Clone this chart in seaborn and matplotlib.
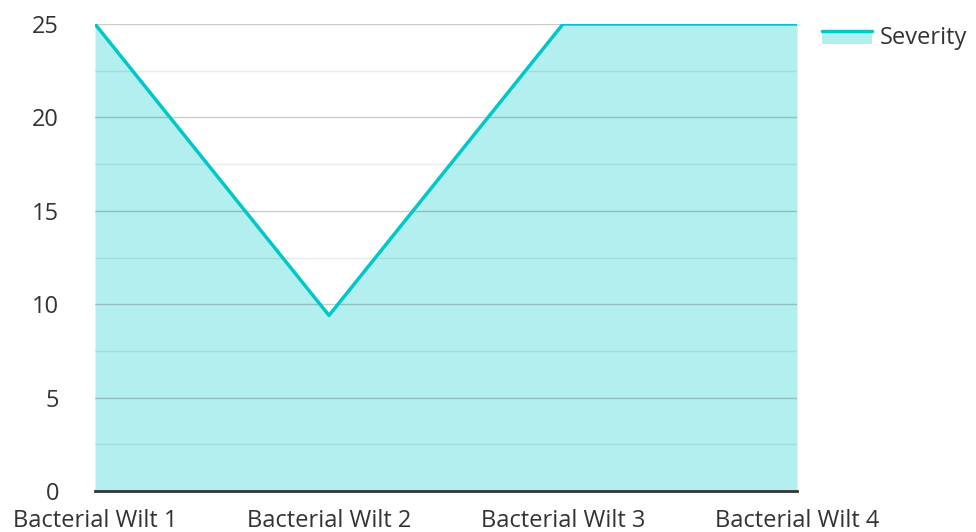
import matplotlib
matplotlib.use("Agg")
import matplotlib.pyplot as plt
import numpy as np
import pandas as pd
import seaborn as sns
from matplotlib.legend_handler import HandlerBase
from matplotlib.patches import Rectangle
from matplotlib.lines import Line2D

categories = ["Bacterial Wilt 1", "Bacterial Wilt 2", "Bacterial Wilt 3", "Bacterial Wilt 4"]
severity = [25, 9.4, 25, 25]

LINE = "#00c8c8"
FILL = "#b2efee"
FS = 17

sns.set_theme(style="white")
plt.rcParams["font.family"] = ["Open Sans", "DejaVu Sans"]

df = pd.DataFrame({"pos": np.arange(len(categories)), "Severity": severity})

fig = plt.figure(figsize=(9.76, 5.32), dpi=100)
ax = fig.add_axes([95 / 976, 1 - 491 / 532, (797 - 95) / 976, (491 - 24) / 532])

ax.fill_between(df["pos"], df["Severity"], 0, color=FILL, linewidth=0, zorder=1)
sns.lineplot(data=df, x="pos", y="Severity", color=LINE, linewidth=2.5, ax=ax,
             legend=False, zorder=3)

ax.set_xlim(0, len(categories) - 1)
ax.set_ylim(0, 25)
ax.set_yticks(np.arange(0, 26, 5))
ax.set_yticks(np.arange(2.5, 25, 5), minor=True)
ax.grid(True, which="major", axis="y", color="#000000", alpha=0.2, linewidth=1, zorder=2)
ax.grid(True, which="minor", axis="y", color="#000000", alpha=0.08, linewidth=1, zorder=2)
ax.set_axisbelow(False)
ax.set_xticks(df["pos"])
ax.set_xticklabels(categories)
ax.set_xlabel("")
ax.set_ylabel("")
for side in ["top", "right", "left"]:
    ax.spines[side].set_visible(False)
ax.spines["bottom"].set_color("#333333")
ax.spines["bottom"].set_linewidth(2)
ax.spines["bottom"].set_zorder(4)
ax.tick_params(axis="both", which="both", length=0, labelsize=FS, colors="#333333")
ax.tick_params(axis="y", pad=26)
ax.tick_params(axis="x", pad=13)


class AreaHandler(HandlerBase):
    def create_artists(self, legend, orig_handle, xdescent, ydescent, width, height,
                       fontsize, trans):
        rect = Rectangle((-xdescent, -ydescent), width, height * 0.8,
                         facecolor=FILL, edgecolor="none", transform=trans)
        line = Line2D([-xdescent, -xdescent + width], [-ydescent + height * 0.8] * 2,
                      color=LINE, linewidth=2.5, transform=trans)
        return [rect, line]


handle = Rectangle((0, 0), 1, 1)
fig.legend([handle], ["Severity"], handler_map={Rectangle: AreaHandler()},
           loc="upper left", bbox_to_anchor=(822 / 976, 1 - 26 / 532),
           frameon=False, fontsize=FS, handlelength=2.1, handleheight=0.7,
           handletextpad=0.35, borderaxespad=0, borderpad=0,
           labelcolor="#333333")

fig.savefig("out.png", dpi=100)
